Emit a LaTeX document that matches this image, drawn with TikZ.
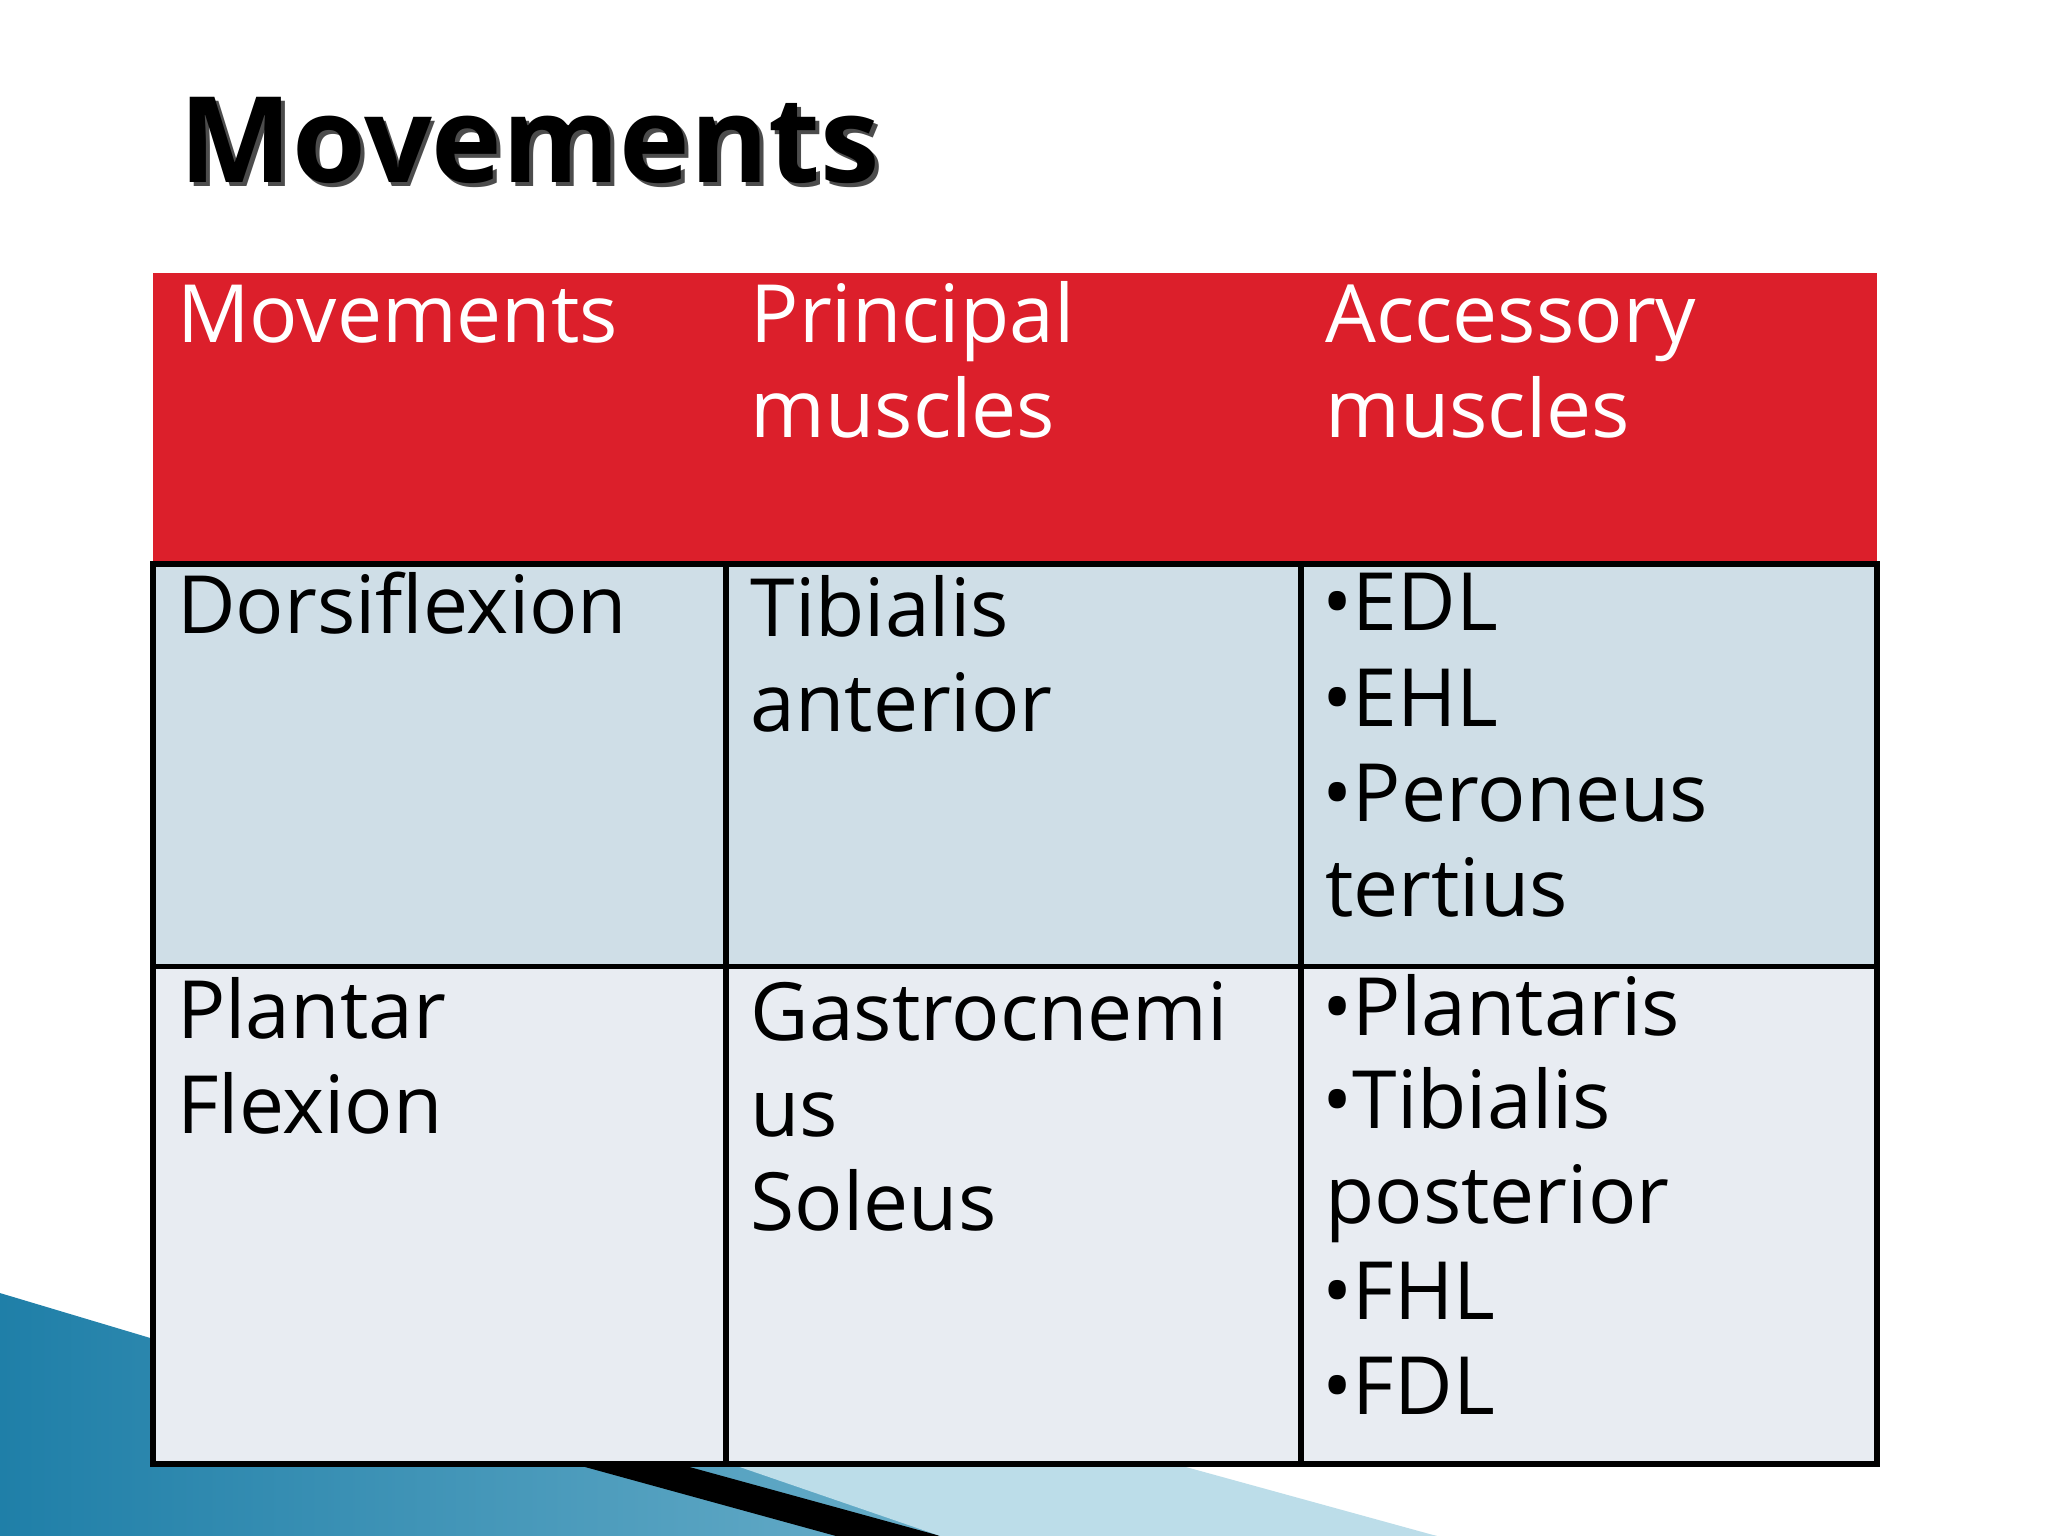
\documentclass[tikz,border=0pt]{standalone}
\usepackage{fontspec}
\setmainfont{Open Sans}
\definecolor{hdr}{HTML}{DC1F2B}
\definecolor{rowa}{HTML}{CFDEE7}
\definecolor{rowb}{HTML}{E8ECF2}
\definecolor{swa}{HTML}{1F7FA8}
\definecolor{swb}{HTML}{8FC6DA}
\begin{document}
\begin{tikzpicture}[x=0.01cm,y=-0.01cm,
  cell/.style={anchor=base west,inner sep=0pt,font=\fontsize{17.5pt}{20pt}\selectfont},
  hcell/.style={cell,text=white}]
\useasboundingbox (0,0) rectangle (1568,1176);
\fill[white] (0,0) rectangle (1568,1176);
% swoosh decoration
\shade[left color=swa,right color=swb] (0,990) -- (117,1025) -- (117,1121) -- (560,1121) -- (1100,1176) -- (0,1176) -- cycle;
\fill[black] (440,1121) -- (520,1121) -- (720,1176) -- (640,1176) -- cycle;
\fill[swb!60] (560,1121) -- (900,1121) -- (1100,1176) -- (720,1176) -- cycle;
% title
\node[anchor=base west,inner sep=0pt,font=\fontsize{26pt}{30pt}\bfseries\selectfont,text=black!70] (tsh) at (140,143) {Movements};
\node[anchor=base west,inner sep=0pt,font=\fontsize{26pt}{30pt}\bfseries\selectfont] (title) at (137,140) {Movements};
% table fills
\fill[hdr] (117,209) rectangle (1437,432);
\fill[rowa] (117,432) rectangle (1437,740);
\fill[rowb] (117,740) rectangle (1437,1121);
\draw[line width=1.2pt] (117,432) rectangle (1437,1121);
\draw[line width=1.2pt] (117,740) -- (1437,740);
\draw[line width=1.2pt] (556,432) -- (556,1121) (996,432) -- (996,1121);
% header
\node[hcell] (h1) at (135,262) {Movements};
\node[hcell] (h2a) at (574,262) {Principal};
\node[hcell] (h2b) at (574,335) {muscles};
\node[hcell] (h3a) at (1014,262) {Accessory};
\node[hcell] (h3b) at (1014,335) {muscles};
% row 1
\node[cell] (a1) at (135,485) {Dorsiflexion};
\node[cell] (a2a) at (574,487) {Tibialis};
\node[cell] (a2b) at (574,560) {anterior};
\node[cell] (a3a) at (1012,483) {•EDL};
\node[cell] (a3b) at (1012,556) {•EHL};
\node[cell] (a3c) at (1012,629) {•Peroneus};
\node[cell] (a3d) at (1014,702) {tertius};
% row 2
\node[cell] (b1a) at (135,795) {Plantar};
\node[cell] (b1b) at (135,868) {Flexion};
\node[cell] (b2a) at (574,797) {Gastrocnemi};
\node[cell] (b2b) at (574,870) {us};
\node[cell] (b2c) at (574,942) {Soleus};
\node[cell] (b3a) at (1012,793) {•Plantaris};
\node[cell] (b3b) at (1012,864) {•Tibialis};
\node[cell] (b3c) at (1014,937) {posterior};
\node[cell] (b3d) at (1012,1010) {•FHL};
\node[cell] (b3e) at (1012,1083) {•FDL};
\end{tikzpicture}
\end{document}
